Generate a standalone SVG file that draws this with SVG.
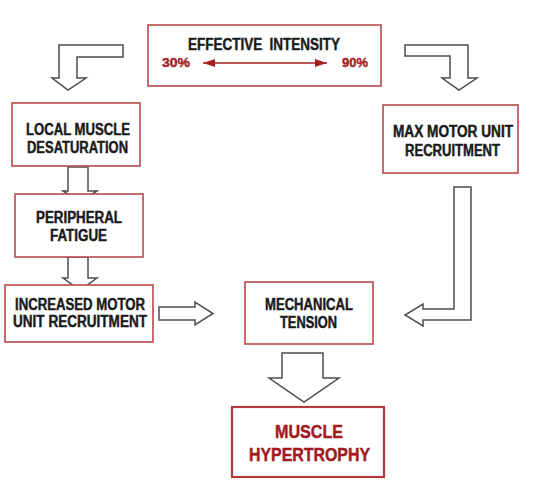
<svg xmlns="http://www.w3.org/2000/svg" width="538" height="494" viewBox="0 0 538 494">
<style>
.box{fill:#fff;stroke:#b9494c;stroke-width:1.6}
.box2{fill:#fff;stroke:#b03a3e;stroke-width:2.2}
.arr{fill:#fff;stroke:#4d4d4d;stroke-width:1.5;stroke-linejoin:miter}
text{font-family:"Liberation Sans Narrow","Liberation Sans",Arial,sans-serif;font-weight:bold;text-anchor:middle;fill:#1a1a1a;stroke:#1a1a1a;stroke-width:0.45}
.t{font-size:16px}
.r{fill:#a51f22;stroke:#a51f22}
.big{font-size:19px;fill:#a01a1e;stroke:#a01a1e}
</style>
<defs>
<marker id="ah" viewBox="0 0 12 8" refX="12" refY="4" markerWidth="12" markerHeight="8" markerUnits="userSpaceOnUse" orient="auto-start-reverse">
<path d="M0,0 L12,4 L0,8 Z" fill="#a51f22"/>
</marker>
</defs>
<rect width="538" height="494" fill="#fff"/>
<g id="connectors">
<path class="arr" d="M123,45 L59,45 L59,78 L52,78 L68,90 L86,78 L77,78 L77,57 L123,57 Z"/>
<path class="arr" d="M68,167 L68,191 L63,191 L80,202 L97,191 L88,191 L88,167 Z"/>
<path class="arr" d="M68,257 L68,278 L63,278 L80,290 L97,278 L88,278 L88,257 Z"/>
<path class="arr" d="M159,307 L195,307 L195,302 L213,313.5 L195,325 L195,320 L159,320 Z"/>
<path class="arr" d="M405,45 L468,45 L468,78 L477,78 L459,90 L442,78 L450,78 L450,56 L405,56 Z"/>
<path class="arr" d="M454,187 L471,187 L471,320 L423,320 L423,326 L405,315 L423,304 L423,309 L454,309 Z"/>
<path class="arr" d="M282,353 L282,378 L269,378 L304,402 L339,378 L323,378 L323,353 Z"/>
</g>
<g id="effective-intensity">
<rect class="box" x="148" y="25" width="233" height="61"/>
<text class="t" x="264" y="50" font-size="16.5" textLength="152" lengthAdjust="spacingAndGlyphs" xml:space="preserve">EFFECTIVE  INTENSITY</text>
<text class="r" x="176" y="67" font-size="13" textLength="28" lengthAdjust="spacingAndGlyphs">30%</text>
<text class="r" x="355" y="67" font-size="13" textLength="26" lengthAdjust="spacingAndGlyphs">90%</text>
<line x1="203" y1="63" x2="327" y2="63" stroke="#a51f22" stroke-width="1.3" marker-start="url(#ah)" marker-end="url(#ah)"/>
</g>
<g id="local-muscle-desaturation">
<rect class="box" x="12" y="103" width="128" height="63"/>
<text class="t" x="78" y="135" textLength="104" lengthAdjust="spacingAndGlyphs">LOCAL MUSCLE</text>
<text class="t" x="77.5" y="153" textLength="101" lengthAdjust="spacingAndGlyphs">DESATURATION</text>
</g>
<g id="peripheral-fatigue">
<rect class="box" x="15" y="194" width="128" height="63"/>
<text class="t" x="79" y="223" textLength="86" lengthAdjust="spacingAndGlyphs">PERIPHERAL</text>
<text class="t" x="78.5" y="241" textLength="57" lengthAdjust="spacingAndGlyphs">FATIGUE</text>
</g>
<g id="increased-motor-unit-recruitment">
<rect class="box" x="5" y="285" width="148" height="57"/>
<text class="t" x="80" y="310" textLength="130" lengthAdjust="spacingAndGlyphs">INCREASED MOTOR</text>
<text class="t" x="80" y="327" textLength="134" lengthAdjust="spacingAndGlyphs">UNIT RECRUITMENT</text>
</g>
<g id="max-motor-unit-recruitment">
<rect class="box" x="383" y="105" width="135" height="68"/>
<text class="t" x="453" y="137" textLength="120" lengthAdjust="spacingAndGlyphs">MAX MOTOR UNIT</text>
<text class="t" x="452.5" y="156" textLength="95" lengthAdjust="spacingAndGlyphs">RECRUITMENT</text>
</g>
<g id="mechanical-tension">
<rect class="box" x="245" y="282" width="128" height="62"/>
<text class="t" x="309" y="310" textLength="88" lengthAdjust="spacingAndGlyphs">MECHANICAL</text>
<text class="t" x="308.5" y="328" textLength="57" lengthAdjust="spacingAndGlyphs">TENSION</text>
</g>
<g id="muscle-hypertrophy">
<rect class="box2" x="232" y="407" width="152" height="70"/>
<text class="big" x="309" y="438" textLength="68" lengthAdjust="spacingAndGlyphs">MUSCLE</text>
<text class="big" x="309.5" y="461" textLength="121" lengthAdjust="spacingAndGlyphs">HYPERTROPHY</text>
</g>
</svg>
